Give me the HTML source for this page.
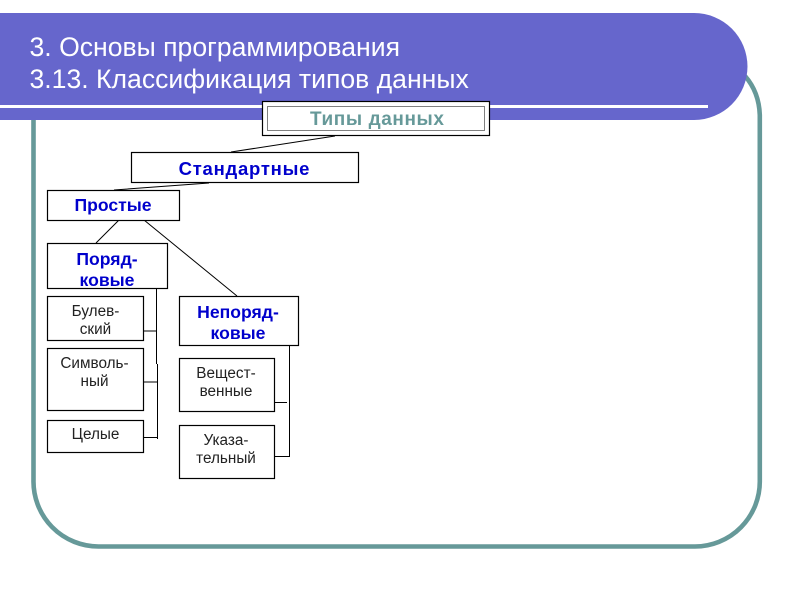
<!DOCTYPE html>
<html>
<head>
<meta charset="utf-8">
<style>
html,body{margin:0;padding:0;background:#fff;width:800px;height:600px;overflow:hidden}
svg{display:block}
text{font-family:"Liberation Sans",sans-serif}
.b{fill:#fff;stroke:#000;stroke-width:1.2}
.l{stroke:#000;stroke-width:1;fill:none}
.h{font-weight:bold;font-size:17.6px;fill:#0000cc;text-anchor:middle}
.n{font-size:15.3px;fill:#222;text-anchor:middle}
.t{font-size:26.6px;fill:#fff}
</style>
</head>
<body>
<svg width="800" height="600" viewBox="0 0 800 600" xmlns="http://www.w3.org/2000/svg">
<path d="M33.500 118V480A65 65 0 0 0 98.500 546.500H695A65 65 0 0 0 759.800 481V115Q759 92 745 76" fill="none" stroke="#669999" stroke-width="4.600"/>
<path d="M0 13H694A53.500 53.500 0 0 1 694 120H0Z" fill="#6666cc"/>
<rect x="0" y="105" width="708" height="3" fill="#fff"/>
<text class="t" x="29.500" y="56">3. Основы программирования</text>
<text class="t" x="29.500" y="88">3.13. Классификация типов данных</text>

<path class="l" stroke-width="0.900" d="M335 136L231 152M209 183L114 190M119 220L96 243M144 220L237 296"/>
<path class="l" d="M156.500 289V364M157.500 364V439M143 331H157M143 382H157M143 437.500H157M289.500 346V457M274 402.500H287M274 456.500H289"/>

<rect class="b" x="262.500" y="101.500" width="227" height="34"/>
<rect x="267.500" y="106.500" width="217" height="24" fill="#fff" stroke="#808080" stroke-width="1"/>
<text x="377.300" y="125" text-anchor="middle" font-weight="bold" font-size="19" letter-spacing="0.600" fill="#669999">Типы данных</text>

<rect class="b" x="131.500" y="152.500" width="227" height="30"/>
<text x="244.400" y="175" text-anchor="middle" font-weight="bold" font-size="18.500" letter-spacing="0.750" fill="#0000cc">Стандартные</text>

<rect class="b" x="47.500" y="190.500" width="132" height="30"/>
<text class="h" x="113" y="211">Простые</text>

<rect class="b" x="47.500" y="243.500" width="120" height="45"/>
<text class="h" x="107" y="265">Поряд-</text>
<text class="h" x="107" y="286">ковые</text>

<rect class="b" x="47.500" y="296.500" width="96" height="44"/>
<text class="n" x="95.500" y="316">Булев-</text>
<text class="n" x="95.500" y="334">ский</text>

<rect class="b" x="47.500" y="348.500" width="96" height="62"/>
<text class="n" x="94.500" y="368">Символь-</text>
<text class="n" x="94.500" y="386">ный</text>

<rect class="b" x="47.500" y="420.500" width="96" height="32"/>
<text class="n" x="95.500" y="439">Целые</text>

<rect class="b" x="179.500" y="296.500" width="119" height="49"/>
<text class="h" x="238" y="318">Непоряд-</text>
<text class="h" x="238" y="339">ковые</text>

<rect class="b" x="179.500" y="358.500" width="95" height="53"/>
<text class="n" x="226" y="378">Вещест-</text>
<text class="n" x="226" y="396">венные</text>

<rect class="b" x="179.500" y="425.500" width="95" height="53"/>
<text class="n" x="226" y="445">Указа-</text>
<text class="n" x="226" y="463">тельный</text>
</svg>
</body>
</html>
